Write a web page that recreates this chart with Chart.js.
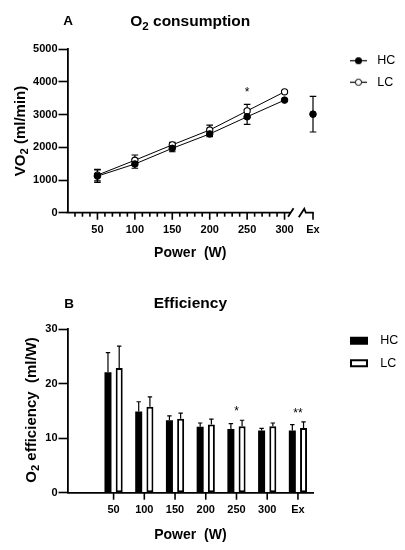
<!DOCTYPE html>
<html><head><meta charset="utf-8">
<script src="https://cdn.jsdelivr.net/npm/chart.js@4.4.1/dist/chart.umd.min.js"></script>
<style>
html,body{margin:0;padding:0;background:#fff;}
#wrap{position:relative;width:405px;height:550px;font-family:'Liberation Sans',Arial,Helvetica,sans-serif;color:#000;}
.box{position:absolute;left:0;width:405px;}
.t{position:absolute;font-weight:bold;line-height:1;white-space:pre;}
.sub{font-size:75%;vertical-align:-0.35em;line-height:0;}
.yt{position:absolute;font-weight:bold;font-size:15px;line-height:1;white-space:pre;transform:translate(-50%,-50%) rotate(-90deg);}
</style></head>
<body>
<div id="wrap">
  <div class="box" style="top:0;height:270px"><canvas id="c1"></canvas></div>
  <div class="box" style="top:270px;height:280px"><canvas id="c2"></canvas></div>
  <div class="t" style="left:63.3px;top:13.9px;font-size:13.5px">A</div>
  <div class="t" style="left:67.5px;width:245.5px;text-align:center;top:12.9px;font-size:15.5px">O<span class="sub">2</span> consumption</div>
  <div class="t" style="left:64.3px;top:296.5px;font-size:13.5px">B</div>
  <div class="t" style="left:67.5px;width:245.8px;text-align:center;top:295.3px;font-size:15.5px">Efficiency</div>
  <div class="yt" style="left:18.8px;top:131px">VO<span class="sub">2</span> (ml/min)</div>
  <div class="yt" style="left:29.8px;top:410px">O<span class="sub">2</span> efficiency  (ml/W)</div>
</div>
<script>
const FONT = "'Liberation Sans', Arial, Helvetica, sans-serif";

// ---------- Panel A: O2 consumption ----------
const powerLabels = ['50', '100', '150', '200', '250', '300', 'Ex'];
const hcVO2    = [1120, 1490, 1970, 2410, 2935, 3445, 3015];
const hcVO2Err = [190, 130, 105, 85, 230, 30, 545];
const lcVO2    = [1150, 1605, 2075, 2530, 3115, 3700];
const lcVO2Err = [175, 160, 75, 150, 200, 30];
const vo2Ticks = [0, 1000, 2000, 3000, 4000, 5000];
const vo2Sig   = [{label: '250', text: '*'}];

// ---------- Panel B: Efficiency ----------
const hcEff    = [22.1, 14.9, 13.3, 12.1, 11.7, 11.4, 11.4];
const hcEffErr = [3.6, 1.8, 0.8, 0.7, 1.0, 0.4, 1.1];
const lcEff    = [22.9, 15.8, 13.6, 12.5, 12.2, 12.2, 11.9];
const lcEffErr = [4.0, 1.8, 1.0, 1.0, 1.1, 0.6, 1.1];
const effTicks = [0, 10, 20, 30];
const effSig   = [{label: '250', text: '*'}, {label: 'Ex', text: '**'}];

// layout constants (axis geometry)
const EX_POS = 338;           // where the "Ex" column sits on the broken power axis
const AXIS_MIN = 10;
const MINOR_STEP = 10;
const BREAK = [308, 323];
const AXIS_W = 1.8;

// ---------- helpers / plugins ----------
function icon(w, h, draw) {
  const c = document.createElement('canvas'); c.width = w; c.height = h;
  const g = c.getContext('2d'); draw(g); return c;
}
const iconHCline = icon(21, 11, g => {
  g.strokeStyle = '#000'; g.lineWidth = 1.2;
  g.beginPath(); g.moveTo(0, 5.5); g.lineTo(17, 5.5); g.stroke();
  g.beginPath(); g.arc(8.5, 5.5, 3.5, 0, Math.PI * 2); g.fillStyle = '#000'; g.fill();
});
const iconLCline = icon(21, 11, g => {
  g.strokeStyle = '#000'; g.lineWidth = 1.2;
  g.beginPath(); g.moveTo(0, 5.5); g.lineTo(17, 5.5); g.stroke();
  g.beginPath(); g.arc(8.5, 5.5, 3.1, 0, Math.PI * 2); g.fillStyle = '#fff'; g.fill();
  g.lineWidth = 1; g.stroke();
});
const iconHCbar = icon(24, 10, g => { g.fillStyle = '#000'; g.fillRect(0, 1, 18, 8); });
const iconLCbar = icon(24, 10, g => {
  g.fillStyle = '#fff'; g.fillRect(0, 1, 18, 8);
  g.strokeStyle = '#000'; g.lineWidth = 2; g.strokeRect(1, 2, 16, 6);
});

function drawErrors(chart, opts) {
  const ctx = chart.ctx, ys = chart.scales.y;
  ctx.save();
  ctx.strokeStyle = '#000'; ctx.lineWidth = opts.width || 1.2;
  chart.data.datasets.forEach((ds, di) => {
    if (!ds.errors) return;
    const meta = chart.getDatasetMeta(di);
    meta.data.forEach((el, i) => {
      const raw = ds.data[i];
      const v = (raw && typeof raw === 'object') ? raw.y : raw;
      const e = ds.errors[i];
      if (v == null || e == null) return;
      const x = el.x;
      const yt = ys.getPixelForValue(v + e);
      const yb = opts.upperOnly ? ys.getPixelForValue(v) : ys.getPixelForValue(v - e);
      ctx.beginPath();
      ctx.moveTo(x, yt); ctx.lineTo(x, yb);
      ctx.moveTo(x - opts.cap, yt); ctx.lineTo(x + opts.cap, yt);
      if (!opts.upperOnly) { ctx.moveTo(x - opts.cap, yb); ctx.lineTo(x + opts.cap, yb); }
      ctx.stroke();
    });
  });
  ctx.restore();
}
const errorBars = {
  id: 'errorBars',
  beforeDatasetsDraw(chart, a, opts) { if (opts.when === 'before') drawErrors(chart, opts); },
  afterDatasetsDraw(chart, a, opts) { if (opts.when === 'after') drawErrors(chart, opts); }
};

const sigMarks = {
  id: 'sigMarks',
  afterDatasetsDraw(chart, a, opts) {
    if (!opts.marks) return;
    const ctx = chart.ctx, ys = chart.scales.y;
    ctx.save();
    ctx.fillStyle = '#000'; ctx.font = '12px ' + FONT;
    ctx.textAlign = 'center'; ctx.textBaseline = 'alphabetic';
    opts.marks.forEach(m => {
      const i = opts.labels.indexOf(m.label);
      const xs = []; let top = Infinity;
      chart.data.datasets.forEach((ds, di) => {
        const el = chart.getDatasetMeta(di).data[i];
        const raw = ds.data[i];
        const v = (raw && typeof raw === 'object') ? raw.y : raw;
        if (!el || v == null) return;
        const e = ds.errors ? (ds.errors[i] || 0) : 0;
        xs.push(el.x);
        top = Math.min(top, ys.getPixelForValue(v + e));
      });
      if (!xs.length) return;
      const x = xs.reduce((p, q) => p + q, 0) / xs.length;
      ctx.fillText(m.text, x, top - opts.gap);
    });
    ctx.restore();
  }
};

// x axis line (with optional break) and tick marks, drawn through the x scale
const xAxisMarks = {
  id: 'xAxisMarks',
  afterDraw(chart, a, opts) {
    const ctx = chart.ctx, xs = chart.scales.x, y0 = chart.chartArea.bottom;
    ctx.save();
    ctx.strokeStyle = '#000';
    ctx.fillStyle = '#000';
    const vals = opts.values || [];
    const majors = opts.majors || [];
    const tw = opts.tickWidth || 1.8;
    for (let k = 0; k < vals.length; k++) {
      const v = vals[k];
      const len = majors.indexOf(v) >= 0 ? opts.majorLen : opts.minorLen;
      if (!len) continue;
      const px = xs.getPixelForValue(v);
      ctx.fillRect(px - tw / 2, y0, tw, len);
    }
    if (opts.breakAt) {
      const a0 = chart.chartArea.left - AXIS_W / 2;
      const b = xs.getPixelForValue(opts.breakAt[0]);
      const c = xs.getPixelForValue(opts.breakAt[1]);
      const d = xs.getPixelForValue(opts.end);
      ctx.lineWidth = AXIS_W;
      ctx.beginPath();
      ctx.moveTo(a0, y0); ctx.lineTo(b, y0);
      ctx.moveTo(b - 2.5, y0 + 4); ctx.lineTo(b + 3, y0 - 4.5);
      ctx.moveTo(c - 3, y0 + 4.5); ctx.lineTo(c + 2.5, y0 - 4);
      ctx.lineTo(c + 4, y0); ctx.lineTo(d + tw / 2, y0);
      ctx.stroke();
    }
    ctx.restore();
  }
};

const placeLegend = {
  id: 'placeLegend',
  afterLayout(chart, a, opts) {
    const lg = chart.legend; if (!lg || opts.x == null) return;
    const pad = lg.options.labels.padding, fs = lg.options.labels.font.size;
    const w = lg.width, h = lg.height;
    lg.left = opts.x - pad; lg.right = lg.left + w;
    lg.top = opts.y - fs / 2 - pad; lg.bottom = lg.top + h;
  }
};

const tickFont = {family: FONT, size: 11, weight: 'bold'};
const titleFont = {family: FONT, size: 14, weight: 'bold'};
function legendLabels(chart) {
  return chart.data.datasets.map((ds, i) => ({
    text: ds.label, pointStyle: ds.legendIcon, fillStyle: '#000', strokeStyle: '#000',
    lineWidth: 0, hidden: false, datasetIndex: i, fontColor: '#000'
  }));
}

// ---------- Chart A ----------
const exIndex = powerLabels.indexOf('Ex');
const powerNums = powerLabels.filter(l => l !== 'Ex').map(Number);
const minorVals = [];
for (let v = AXIS_MIN + MINOR_STEP; v <= powerNums[powerNums.length - 1]; v += MINOR_STEP) minorVals.push(v);
const allTickVals = minorVals.concat([EX_POS]);
const majorVals = powerNums.concat([EX_POS]);

new Chart(document.getElementById('c1'), {
  type: 'line',
  data: {
    datasets: [
      {
        label: 'HC',
        data: powerLabels.map((l, i) => ({x: l === 'Ex' ? EX_POS : Number(l), y: hcVO2[i]})),
        errors: hcVO2Err,
        legendIcon: iconHCline,
        borderColor: '#000', borderWidth: 1, backgroundColor: '#000',
        pointRadius: 3.3, pointBorderWidth: 1, pointBackgroundColor: '#000', pointBorderColor: '#000',
        segment: { borderColor: c => c.p1DataIndex === exIndex ? 'rgba(0,0,0,0)' : '#000' },
        clip: false
      },
      {
        label: 'LC',
        data: lcVO2.map((v, i) => ({x: Number(powerLabels[i]), y: v})),
        errors: lcVO2Err,
        legendIcon: iconLCline,
        borderColor: '#000', borderWidth: 1, backgroundColor: '#fff',
        pointRadius: 3.1, pointBorderWidth: 1.1, pointBackgroundColor: '#fff', pointBorderColor: '#000',
        clip: false
      }
    ]
  },
  options: {
    responsive: true, maintainAspectRatio: false, animation: false, events: [],
    layout: { padding: {top: 49.3, right: 32, bottom: 0, left: 0} },
    scales: {
      x: {
        type: 'linear', min: AXIS_MIN, max: EX_POS,
        afterBuildTicks: s => { s.ticks = allTickVals.map(v => ({value: v})); },
        ticks: {
          autoSkip: false, maxRotation: 0, minRotation: 0, padding: 3.7, color: '#000', font: tickFont,
          callback: v => v === EX_POS ? 'Ex' : (powerNums.indexOf(v) >= 0 ? String(v) : '')
        },
        grid: { drawOnChartArea: false, drawTicks: true, tickLength: 7, tickColor: 'rgba(0,0,0,0)' },
        border: { display: false },
        title: { display: true, text: 'Power  (W)', color: '#000', font: titleFont, padding: {top: 0, bottom: 8.3} },
        afterFit: s => { s.height = 57.3; }
      },
      y: {
        min: 0, max: 5000,
        afterBuildTicks: s => { s.ticks = vo2Ticks.map(v => ({value: v})); },
        ticks: { padding: 1, color: '#000', font: tickFont, callback: v => String(v) },
        grid: { drawOnChartArea: false, tickLength: 9, tickColor: '#000', tickWidth: 1.6 },
        border: { display: true, color: '#000', width: AXIS_W },
        afterFit: s => { s.width = 67.5; }
      }
    },
    plugins: {
      legend: {
        position: 'right', align: 'start', maxWidth: 60,
        labels: { usePointStyle: true, pointStyleWidth: 21, padding: 9, color: '#000',
          font: {family: FONT, size: 12.5}, generateLabels: legendLabels }
      },
      tooltip: { enabled: false },
      placeLegend: { x: 350, y: 60.7 },
      errorBars: { when: 'before', cap: 3.3, width: 1.2 },
      sigMarks: { marks: vo2Sig, labels: powerLabels, gap: 8 },
      xAxisMarks: { values: allTickVals, majors: majorVals, majorLen: 7, minorLen: 4, tickWidth: 1.6, breakAt: BREAK, end: EX_POS }
    }
  },
  plugins: [errorBars, sigMarks, xAxisMarks, placeLegend]
});

// ---------- Chart B ----------
const effCats = [''].concat(powerLabels);
const catIdx = powerLabels.map((l, i) => i + 1);
new Chart(document.getElementById('c2'), {
  type: 'bar',
  data: {
    labels: effCats,
    datasets: [
      {
        label: 'HC', data: [null].concat(hcEff), errors: [null].concat(hcEffErr), legendIcon: iconHCbar,
        backgroundColor: '#000', borderColor: '#000', borderWidth: 0,
        barPercentage: 0.625, categoryPercentage: 0.73
      },
      {
        label: 'LC', data: [null].concat(lcEff), errors: [null].concat(lcEffErr), legendIcon: iconLCbar,
        backgroundColor: '#fff', borderColor: '#000', borderWidth: 2, borderSkipped: false,
        barPercentage: 0.625, categoryPercentage: 0.73
      }
    ]
  },
  options: {
    responsive: true, maintainAspectRatio: false, animation: false, events: [],
    layout: { padding: {top: 59.3, right: 31.7, bottom: 0, left: 0} },
    scales: {
      x: {
        type: 'category', offset: true,
        ticks: { autoSkip: false, maxRotation: 0, minRotation: 0, padding: 3.7, color: '#000', font: tickFont },
        grid: { offset: false, drawOnChartArea: false, drawTicks: true, tickLength: 7, tickColor: 'rgba(0,0,0,0)' },
        border: { display: true, color: '#000', width: AXIS_W },
        title: { display: true, text: 'Power  (W)', color: '#000', font: titleFont, padding: {top: 0, bottom: 6.6} },
        afterFit: s => { s.height = 57.3; }
      },
      y: {
        min: 0, max: 30,
        afterBuildTicks: s => { s.ticks = effTicks.map(v => ({value: v})); },
        ticks: { padding: 1, color: '#000', font: tickFont, callback: v => String(v) },
        grid: { drawOnChartArea: false, tickLength: 9, tickColor: '#000', tickWidth: 1.6 },
        border: { display: true, color: '#000', width: AXIS_W },
        afterFit: s => { s.width = 67.5; }
      }
    },
    plugins: {
      legend: {
        position: 'right', align: 'start', maxWidth: 60,
        labels: { usePointStyle: true, pointStyleWidth: 24, padding: 10, color: '#000',
          font: {family: FONT, size: 12.5}, generateLabels: legendLabels }
      },
      tooltip: { enabled: false },
      placeLegend: { x: 350, y: 70.7 },
      errorBars: { when: 'after', upperOnly: true, cap: 2.2, width: 1.2 },
      sigMarks: { marks: effSig, labels: effCats, gap: 5 },
      xAxisMarks: { values: catIdx, majors: catIdx, majorLen: 7, minorLen: 0, tickWidth: 1.6 }
    }
  },
  plugins: [errorBars, sigMarks, xAxisMarks, placeLegend]
});
</script>
</body></html>
